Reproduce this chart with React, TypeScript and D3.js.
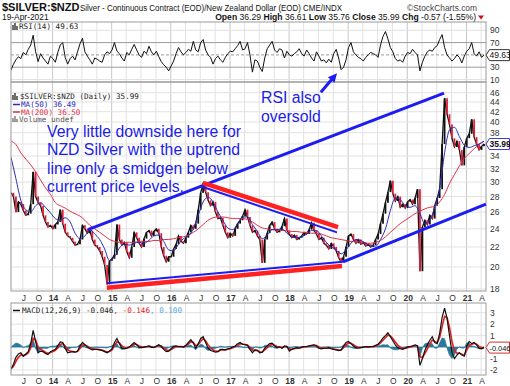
import { useRef, useEffect } from 'react';
import * as d3 from 'd3';

const startDate = new Date(2013, 3, 19);
const endDate = new Date(2021, 3, 19);

// semi-monthly closes, 19-Apr-2013 .. 19-Apr-2021
const price = [
  28.5, 28.0, 26.0, 27.3, 27.0, 26.2, 25.6, 25.8, 27.0, 31.5,
  28.0, 27.2, 26.8, 25.6, 24.8, 24.2, 24.4, 24.0, 24.5, 24.8,
  26.3, 24.6, 23.6, 23.2, 23.0, 22.6, 22.2, 22.3, 22.8, 24.4,
  24.0, 23.5, 23.8, 22.8, 22.2, 22.0, 21.6, 21.0, 20.2, 18.4,
  20.6, 20.8, 21.2, 24.5, 22.8, 22.2, 22.5, 21.5, 20.9, 22.0,
  23.6, 23.0, 22.4, 22.0, 22.9, 23.6, 23.8, 23.2, 23.7, 24.0,
  23.5, 22.0, 21.1, 20.5, 21.0, 21.0, 21.8, 22.3, 23.2, 22.6,
  22.4, 23.0, 23.6, 24.4, 24.0, 24.6, 26.3, 28.5, 29.8, 28.6,
  27.5, 26.8, 27.3, 26.0, 25.2, 25.3, 24.4, 23.6, 23.0, 23.5,
  23.2, 24.0, 24.6, 25.0, 25.5, 26.3, 25.4, 24.4, 23.6, 23.8,
  23.2, 22.8, 20.4, 22.8, 23.5, 24.4, 24.8, 24.0, 23.6, 23.8,
  24.3, 25.2, 23.8, 23.4, 23.0, 23.3, 22.8, 23.0, 23.2, 23.6,
  23.4, 23.9, 24.7, 23.8, 23.4, 22.8, 23.0, 22.4, 22.2, 21.8,
  22.4, 22.0, 21.6, 20.9, 20.5, 21.0, 22.0, 23.2, 23.4, 22.8,
  22.4, 22.8, 22.3, 22.5, 22.1, 22.3, 22.0, 22.2, 22.8, 23.4,
  24.6, 25.8, 27.2, 28.6, 30.2, 28.4, 27.4, 28.0, 26.6, 27.0,
  26.5, 27.3, 27.6, 27.0, 27.8, 29.0, 19.6, 24.2, 25.0, 24.5,
  25.6, 25.2, 26.8, 27.8, 29.0, 36.0, 44.8, 41.5, 39.5, 37.0,
  35.5, 36.5, 35.0, 32.5, 35.5, 37.0, 37.8, 40.5, 37.2, 36.0,
  35.0, 35.6, 35.99,
];

// monthly moving averages
const ma50 = [
  33.8, 30.5, 27.5, 26.3, 26.0, 26.8, 27.2, 26.6, 25.9, 25.2,
  25.0, 25.3, 24.8, 23.5, 22.9, 23.2, 23.9, 23.4, 22.8, 21.8,
  20.6, 21.0, 21.9, 22.3, 22.2, 22.4, 22.5, 22.4, 22.7, 23.2,
  23.3, 22.6, 21.7, 21.6, 22.3, 22.9, 23.2, 24.0, 25.6, 27.3,
  27.9, 27.3, 26.0, 25.0, 24.1, 23.9, 24.6, 25.4, 25.4, 24.5,
  23.7, 22.9, 23.3, 23.9, 23.9, 24.0, 23.5, 23.1, 23.0, 23.1,
  23.4, 23.8, 23.8, 23.2, 22.5, 22.0, 21.7, 21.3, 21.7, 22.4,
  22.8, 22.7, 22.4, 22.1, 22.1, 22.8, 24.0, 26.2, 27.8, 27.6,
  26.8, 26.6, 26.8, 25.8, 24.6, 25.0, 26.6, 29.0, 34.5, 38.5,
  39.0, 37.3, 35.8, 35.4, 35.7, 36.0, 36.49,
];
const ma200 = [
  36.5, 35.9, 34.5, 33.5, 32.6, 31.5, 30.3, 29.2, 28.3, 27.2,
  26.8, 26.5, 26.1, 25.8, 25.5, 25.0, 24.4, 24.0, 23.6, 23.2,
  22.8, 22.6, 22.5, 22.5, 22.5, 22.5, 22.6, 22.6, 22.6, 22.7,
  22.7, 22.8, 22.8, 22.9, 23.0, 23.1, 23.3, 23.6, 24.0, 24.5,
  25.0, 25.3, 25.4, 25.4, 25.3, 25.2, 25.2, 25.2, 25.1, 24.8,
  24.4, 24.1, 24.0, 23.9, 23.9, 23.8, 23.8, 23.7, 23.7, 23.6,
  23.6, 23.5, 23.5, 23.4, 23.2, 23.0, 22.9, 22.8, 22.7, 22.6,
  22.6, 22.5, 22.4, 22.4, 22.5, 22.7, 23.1, 23.6, 24.1, 24.6,
  25.0, 25.4, 25.8, 26.1, 26.4, 26.6, 26.7, 27.3, 28.3, 29.8,
  31.1, 32.4, 33.6, 34.4, 35.2, 35.9, 36.5,
];

// semi-monthly RSI(14)
const rsi = [
  25, 35, 42, 47, 44, 54, 50, 59, 66, 82,
  55, 39, 52, 45, 40, 35, 48, 44, 38, 54,
  66, 70, 46, 35, 44, 48, 42, 55, 68, 77,
  55, 48, 42, 35, 45, 43, 40, 38, 50, 55,
  52, 58, 70, 56, 52, 45, 40, 54, 50, 59,
  67, 58, 50, 46, 56, 52, 64, 55, 50, 56,
  47, 39, 34, 30, 24, 32,
  40, 52, 62, 55, 50, 54, 59, 56, 72, 58,
  55, 70, 75, 58, 50, 46, 35, 44, 48, 42,
  38, 46, 52, 56, 55, 60, 65, 72, 58, 60,
  70, 50, 22, 42, 40, 30, 23, 45, 60, 66,
  72, 58, 54, 60, 58, 45, 56, 50, 48, 52,
  55, 60, 52, 48, 58, 52, 45, 40, 55, 48,
  40, 42, 37, 43, 38, 52, 59, 45, 26, 30,
  42, 62, 70, 55, 50, 46, 44, 40, 46, 50,
  54, 52, 50, 46, 66, 80, 88, 76, 62, 55,
  44, 40, 42, 38, 48, 54, 52, 59, 54, 50,
  24, 38, 48, 55, 58, 56, 62, 65, 75, 83,
  62, 50, 45, 40, 44, 50, 46, 37, 48, 56,
  60, 70, 52, 48, 55, 46, 49.63,
];

// semi-monthly MACD(12,26,9) line
const macd = [
  -1.9, -1.5, -0.9, -0.6, -0.5, -0.8, -0.6, -0.4, 0.3, 1.45,
  0.5, -0.5, -0.35, -0.4, -0.55, -0.65, -0.4, -0.3, -0.2, 0.1,
  0.45, 0.4, -0.1, -0.5, -0.45, -0.4, -0.45, -0.35, 0.1, 0.4,
  0.2, 0.0, -0.15, -0.25, -0.2, -0.2, -0.25, -0.3, -0.4, -0.5,
  -0.35, -0.15, 0.4, 0.75, 0.3, -0.1, -0.15, -0.1, 0.0, 0.2,
  0.4, 0.2, 0.0, -0.05, 0.0, 0.05, 0.1, 0.0, -0.05, 0.1,
  0.2, 0.05, -0.2, -0.4, -0.35, -0.15, 0.05, 0.1, 0.05, 0.05,
  0.0, 0.15, 0.4, 0.65, 0.35, -0.1, 0.3, 0.75, 0.9, 0.4,
  -0.1, -0.3, -0.35, -0.45, -0.4, -0.2, -0.2, -0.25, -0.15, -0.1,
  0.0, 0.1, 0.3, 0.4, 0.25, 0.2, 0.15, -0.2, -0.5, -0.25,
  -0.3, -0.5, -0.45, -0.1, 0.1, 0.3, 0.35, 0.1, -0.05, 0.0,
  -0.1, 0.1, 0.05, -0.35, -0.2, -0.1, -0.05, -0.1, 0.0, 0.05,
  0.05, 0.1, 0.15, 0.2, 0.1, -0.1, -0.15, -0.1, -0.1, -0.05,
  -0.15, -0.2, -0.25, -0.3, -0.25, 0.1, 0.4, 0.5, 0.3, 0.1,
  -0.05, -0.1, -0.05, 0.0, 0.05, 0.0, 0.05, 0.05, 0.15, 0.25,
  0.5, 0.8, 1.0, 1.25, 0.9, 0.55, 0.2, -0.05, -0.15, -0.2,
  -0.1, 0.0, 0.05, 0.1, 0.2, 0.1, -1.6, -1.0, -0.3, 0.2,
  0.6, 0.9, 0.4, 0.3, 1.2, 2.6, 3.4, 2.5, 1.0, -0.5,
  -1.0, -0.7, -0.5, -0.7, -0.8, 0.1, 0.5, 0.3, 0.4, 0.2,
  -0.1, -0.15, -0.046,
];

const priceTicks = [18, 20, 22, 24, 26, 28, 30, 32, 34, 36, 38, 40, 42, 44, 46];
const rsiTicks = [10, 30, 70, 90];
const macdTicks = [-2, -1, 1, 2, 3];

// hand-drawn annotation lines: [date, price] -> [date, price]
const trendLines = [
  { from: ['2014-08-07', 23.9], to: ['2020-08-15', 45.9], color: '#1c1cf2', width: 3 },
  { from: ['2014-12-02', 18.5], to: ['2018-11-30', 20.5], color: '#1c1cf2', width: 2 },
  { from: ['2014-12-02', 18.1], to: ['2018-11-24', 20.1], color: '#ff2020', width: 4.5 },
  { from: ['2016-07-18', 29.3], to: ['2018-10-24', 23.6], color: '#1c1cf2', width: 2 },
  { from: ['2016-07-18', 29.9], to: ['2018-10-30', 24.2], color: '#ff2020', width: 4.5 },
  { from: ['2018-11-30', 20.5], to: ['2021-05-01', 27.0], color: '#1c1cf2', width: 3 },
];
const arrow = { from: ['2018-07-16', 46.1], to: ['2018-10-24', 50.5] };

const noteLines = ['Very little downside here for', 'NZD Silver with the uptrend', 'line only a smidgen below', 'current price levels.'];
const rsiNote = ['RSI also', 'oversold'];

const MONO = '"DejaVu Sans Mono", monospace';
const SANS = '"Liberation Sans", Arial, sans-serif';

export default function App() {
  const ref = useRef<SVGSVGElement>(null);

  useEffect(() => {
    const svg = d3.select(ref.current);
    svg.selectAll('*').remove();
    const L = 11, R = 486;
    const rsiTop = 22, rsiBot = 82, pTop = 82, pBot = 291, mTop = 303, mBot = 375;

    const x = d3.scaleTime().domain([startDate, endDate]).range([11, 484]);
    const xi = (n: number) => d3.scaleLinear().domain([0, n - 1]).range([11, 484]);
    const yP = d3.scaleLog().domain([18, 46]).range([289, 92.7]);
    const yR = d3.scaleLinear().domain([10, 90]).range([79.5, 30.3]);
    const yM = d3.scaleLinear().domain([-2, 3]).range([370, 312.7]);

    svg.append('rect').attr('width', 510).attr('height', 386).attr('fill', '#fff');
    const defs = svg.append('defs');
    const clip = (id: string, y0: number, y1: number) =>
      defs.append('clipPath').attr('id', id).append('rect').attr('x', L).attr('y', y0).attr('width', R - L).attr('height', y1 - y0);
    clip('cR', rsiTop, rsiBot); clip('cP', pTop, pBot); clip('cM', mTop, mBot);

    const quarters = d3.timeMonth.every(3)!.range(new Date(2013, 6, 1), endDate);
    const qLabel = (d: Date) => d.getMonth() === 0 ? String(d.getFullYear()).slice(2) : ['A', 'J', 'O'][[3, 6, 9].indexOf(d.getMonth())];

    // vertical grid
    [[rsiTop, rsiBot], [pTop, pBot], [mTop, mBot]].forEach(([a, b]) => {
      svg.append('g').selectAll('line').data(quarters).enter().append('line')
        .attr('x1', d => x(d)).attr('x2', d => x(d)).attr('y1', a).attr('y2', b)
        .attr('stroke', d => d.getMonth() === 0 ? '#c8c8c8' : '#e2e2e2').attr('stroke-width', 1);
    });

    // horizontal grids
    svg.append('g').selectAll('line').data(priceTicks).enter().append('line')
      .attr('x1', L).attr('x2', R).attr('y1', d => yP(d)).attr('y2', d => yP(d))
      .attr('stroke', '#e2e2e2');
    svg.append('g').selectAll('line').data(rsiTicks).enter().append('line')
      .attr('x1', L).attr('x2', R).attr('y1', d => yR(d)).attr('y2', d => yR(d))
      .attr('stroke', d => d === 30 || d === 70 ? '#9a9a9a' : '#e2e2e2');
    svg.append('line').attr('x1', L).attr('x2', R).attr('y1', yR(50)).attr('y2', yR(50))
      .attr('stroke', '#999').attr('stroke-dasharray', '3,2');
    svg.append('g').selectAll('line').data(macdTicks).enter().append('line')
      .attr('x1', L).attr('x2', R).attr('y1', d => yM(d)).attr('y2', d => yM(d))
      .attr('stroke', '#e2e2e2');

    // RSI line
    const xr = xi(rsi.length);
    svg.append('path').datum(rsi).attr('clip-path', 'url(#cR)')
      .attr('d', d3.line<number>().x((_, i) => xr(i)).y(d => yR(d)))
      .attr('fill', 'none').attr('stroke', '#111').attr('stroke-width', 1);

    // price bars + line
    const xp = xi(price.length);
    const gp = svg.append('g').attr('clip-path', 'url(#cP)');
    gp.append('path').datum(price)
      .attr('d', d3.line<number>().x((_, i) => xp(i)).y(d => yP(d)))
      .attr('fill', 'none').attr('stroke', '#111').attr('stroke-width', 1.3);
    gp.selectAll('line.bar').data(price.slice(1)).enter().append('line')
      .attr('x1', (_, i) => xp(i + 1)).attr('x2', (_, i) => xp(i + 1))
      .attr('y1', (_, i) => yP(price[i])).attr('y2', d => yP(d))
      .attr('stroke', (d, i) => d < price[i] ? '#e0203a' : '#111').attr('stroke-width', 1.8);

    const xmv = xi(ma50.length);
    gp.append('path').datum(ma200)
      .attr('d', d3.line<number>().x((_, i) => xmv(i)).y(d => yP(d)).curve(d3.curveMonotoneX))
      .attr('fill', 'none').attr('stroke', '#e0304a').attr('stroke-width', 1);
    gp.append('path').datum(ma50)
      .attr('d', d3.line<number>().x((_, i) => xmv(i)).y(d => yP(d)).curve(d3.curveMonotoneX))
      .attr('fill', 'none').attr('stroke', '#2a2ab8').attr('stroke-width', 1);

    // MACD
    const sig: number[] = [];
    macd.forEach((v, i) => sig.push(i === 0 ? v : sig[i - 1] + 0.55 * (v - sig[i - 1])));
    const hist = macd.map((v, i) => v - sig[i]);
    const xm = xi(macd.length);
    const gm = svg.append('g').attr('clip-path', 'url(#cM)');
    gm.append('path').datum(hist)
      .attr('d', d3.area<number>().x((_, i) => xm(i)).y0(yM(0)).y1(d => yM(d)))
      .attr('fill', '#2b7a9c').attr('stroke', '#2b7a9c').attr('stroke-width', 0.8);
    gm.append('path').datum(sig)
      .attr('d', d3.line<number>().x((_, i) => xm(i)).y(d => yM(d)))
      .attr('fill', 'none').attr('stroke', '#e02020').attr('stroke-width', 1.6);
    gm.append('path').datum(macd)
      .attr('d', d3.line<number>().x((_, i) => xm(i)).y(d => yM(d)))
      .attr('fill', 'none').attr('stroke', '#111').attr('stroke-width', 1.2);

    // frames
    [[rsiTop, rsiBot], [pTop, pBot], [mTop, mBot]].forEach(([a, b]) => {
      svg.append('rect').attr('x', L).attr('y', a).attr('width', R - L).attr('height', b - a)
        .attr('fill', 'none').attr('stroke', '#9a9a9a');
    });

    // right axis labels
    const axTxt = (g: any) => g.attr('font-family', SANS).attr('font-size', 8.5).attr('fill', '#333');
    svg.append('g').call(axTxt).selectAll('text').data(priceTicks.filter(d => d !== 36)).enter().append('text')
      .attr('x', 490).attr('y', d => yP(d) + 3).text(d => d);
    svg.append('g').call(axTxt).selectAll('text').data(rsiTicks).enter().append('text')
      .attr('x', 490).attr('y', d => yR(d) + 3).text(d => d);
    svg.append('g').call(axTxt).selectAll('text').data(macdTicks).enter().append('text')
      .attr('x', 490).attr('y', d => yM(d) + 3).text(d => d);

    // value tags
    const tag = (y: number, txt: string, stroke: string, bold = false, fs = 8.5) => {
      svg.append('path').attr('d', `M${R},${y} L${R + 3.5},${y - 5.5} L509.5,${y - 5.5} L509.5,${y + 5.5} L${R + 3.5},${y + 5.5} Z`)
        .attr('fill', '#fff').attr('stroke', stroke).attr('stroke-width', 1);
      svg.append('text').attr('x', 489.5).attr('y', y + 3).attr('font-family', SANS).attr('font-size', fs)
        .attr('font-weight', bold ? 'bold' : 'normal').attr('fill', '#111').text(txt);
    };
    tag(yR(49.63), '49.63', '#333');
    tag(yP(35.99), '35.99', '#3a3acc', true);
    tag(yM(-0.046), '-0.046', '#d03030', false, 7.4);

    // time labels
    [297, 380].forEach(yy => {
      svg.append('g').selectAll('text').data(quarters).enter().append('text')
        .attr('x', d => x(d) + 1).attr('y', yy + 3.5).attr('text-anchor', 'middle')
        .attr('font-family', SANS).attr('font-size', 8.5)
        .attr('font-weight', d => d.getMonth() === 0 ? 'bold' : 'normal').attr('fill', '#333')
        .text(qLabel);
    });

    // annotations
    const pt = (p: any) => [x(new Date(p[0])), yP(p[1])];
    trendLines.forEach(t => {
      const a = pt(t.from), b = pt(t.to);
      svg.append('line').attr('x1', a[0]).attr('y1', a[1]).attr('x2', b[0]).attr('y2', b[1])
        .attr('stroke', t.color).attr('stroke-width', t.width);
    });
    const a0 = pt(arrow.from), a1 = pt(arrow.to);
    const ang = Math.atan2(a1[1] - a0[1], a1[0] - a0[0]);
    svg.append('line').attr('x1', a0[0]).attr('y1', a0[1])
      .attr('x2', a1[0] - 6 * Math.cos(ang)).attr('y2', a1[1] - 6 * Math.sin(ang))
      .attr('stroke', '#1c1cf2').attr('stroke-width', 3);
    const hx = (r: number, da: number) => [a1[0] - r * Math.cos(ang + da), a1[1] - r * Math.sin(ang + da)];
    svg.append('polygon').attr('points', [a1, hx(10, 0.45), hx(10, -0.45)].map(p => p.join(',')).join(' '))
      .attr('fill', '#1c1cf2');

    const note = svg.append('g').attr('font-family', SANS).attr('font-size', 15.8).attr('fill', '#1c1ce6');
    noteLines.forEach((s, i) => note.append('text').attr('x', 47).attr('y', 136.5 + i * 18.5).text(s));
    rsiNote.forEach((s, i) => note.append('text').attr('x', 261).attr('y', 103 + i * 18.5).text(s));

    // legends
    const leg = svg.append('g').attr('font-family', MONO).attr('font-size', 7.6);
    const icon = (y: number) => {
      svg.append('path').attr('d', `M13,${y + 1} L13,${y - 4} M15,${y + 1} L15,${y - 6} M17,${y + 1} L17,${y - 3}`)
        .attr('stroke', '#333').attr('stroke-width', 1.4);
    };
    icon(29); leg.append('text').attr('x', 19).attr('y', 29).attr('fill', '#222').text('RSI(14) 49.63');
    icon(99); leg.append('text').attr('x', 20).attr('y', 99).attr('fill', '#222').text('$SILVER:$NZD (Daily) 35.99');
    svg.append('line').attr('x1', 13).attr('x2', 20).attr('y1', 104.5).attr('y2', 104.5).attr('stroke', '#2a2ab8').attr('stroke-width', 1.5);
    leg.append('text').attr('x', 21).attr('y', 107).attr('fill', '#2a2ab8').text('MA(50) 36.49');
    svg.append('line').attr('x1', 13).attr('x2', 20).attr('y1', 112).attr('y2', 112).attr('stroke', '#e0304a').attr('stroke-width', 1.5);
    leg.append('text').attr('x', 21).attr('y', 114.5).attr('fill', '#e0304a').text('MA(200) 36.50');
    svg.append('path').attr('d', 'M13,122 L13,118 M15,122 L15,116 M17,122 L17,119').attr('stroke', '#777').attr('stroke-width', 1.4);
    leg.append('text').attr('x', 19).attr('y', 122).attr('fill', '#555').text('Volume undef');
    svg.append('line').attr('x1', 13).attr('x2', 20).attr('y1', 310.5).attr('y2', 310.5).attr('stroke', '#111').attr('stroke-width', 1.5);
    const ml = leg.append('text').attr('x', 22).attr('y', 313);
    ml.append('tspan').attr('fill', '#222').text('MACD(12,26,9) -0.046');
    ml.append('tspan').attr('fill', '#e02020').text(', -0.146');
    ml.append('tspan').attr('fill', '#5aa5d8').text(', 0.100');

    // header
    const hd = svg.append('g').attr('font-family', SANS).attr('fill', '#111');
    hd.append('text').attr('x', 2).attr('y', 11).attr('font-size', 11).attr('font-weight', 'bold').text('$SILVER:$NZD');
    hd.append('text').attr('x', 80).attr('y', 10.5).attr('font-size', 8.4).attr('textLength', 262).attr('lengthAdjust', 'spacingAndGlyphs')
      .text('Silver - Continuous Contract (EOD)/New Zealand Dollar (EOD) CME/INDX');
    hd.append('text').attr('x', 477).attr('y', 10.5).attr('font-size', 8.4).attr('text-anchor', 'end').attr('fill', '#444').text('©StockCharts.com');
    hd.append('text').attr('x', 2).attr('y', 20).attr('font-size', 8.4).text('19-Apr-2021');
    const ol = hd.append('text').attr('x', 476).attr('y', 20).attr('font-size', 8.6).attr('text-anchor', 'end');
    [['Open', ' 36.29 '], ['High', ' 36.61 '], ['Low', ' 35.76 '], ['Close', ' 35.99 '], ['Chg', ' -0.57 (-1.55%)']].forEach(([k, v]) => {
      ol.append('tspan').attr('font-weight', 'bold').text(k);
      ol.append('tspan').text(v);
    });
    hd.append('path').attr('d', 'M478,15.5 L484,15.5 L481,19.5 Z').attr('fill', '#d01010');
  }, []);

  return <svg ref={ref} width={510} height={386} style={{ position: 'absolute', left: 0, top: 0 }} />;
}
